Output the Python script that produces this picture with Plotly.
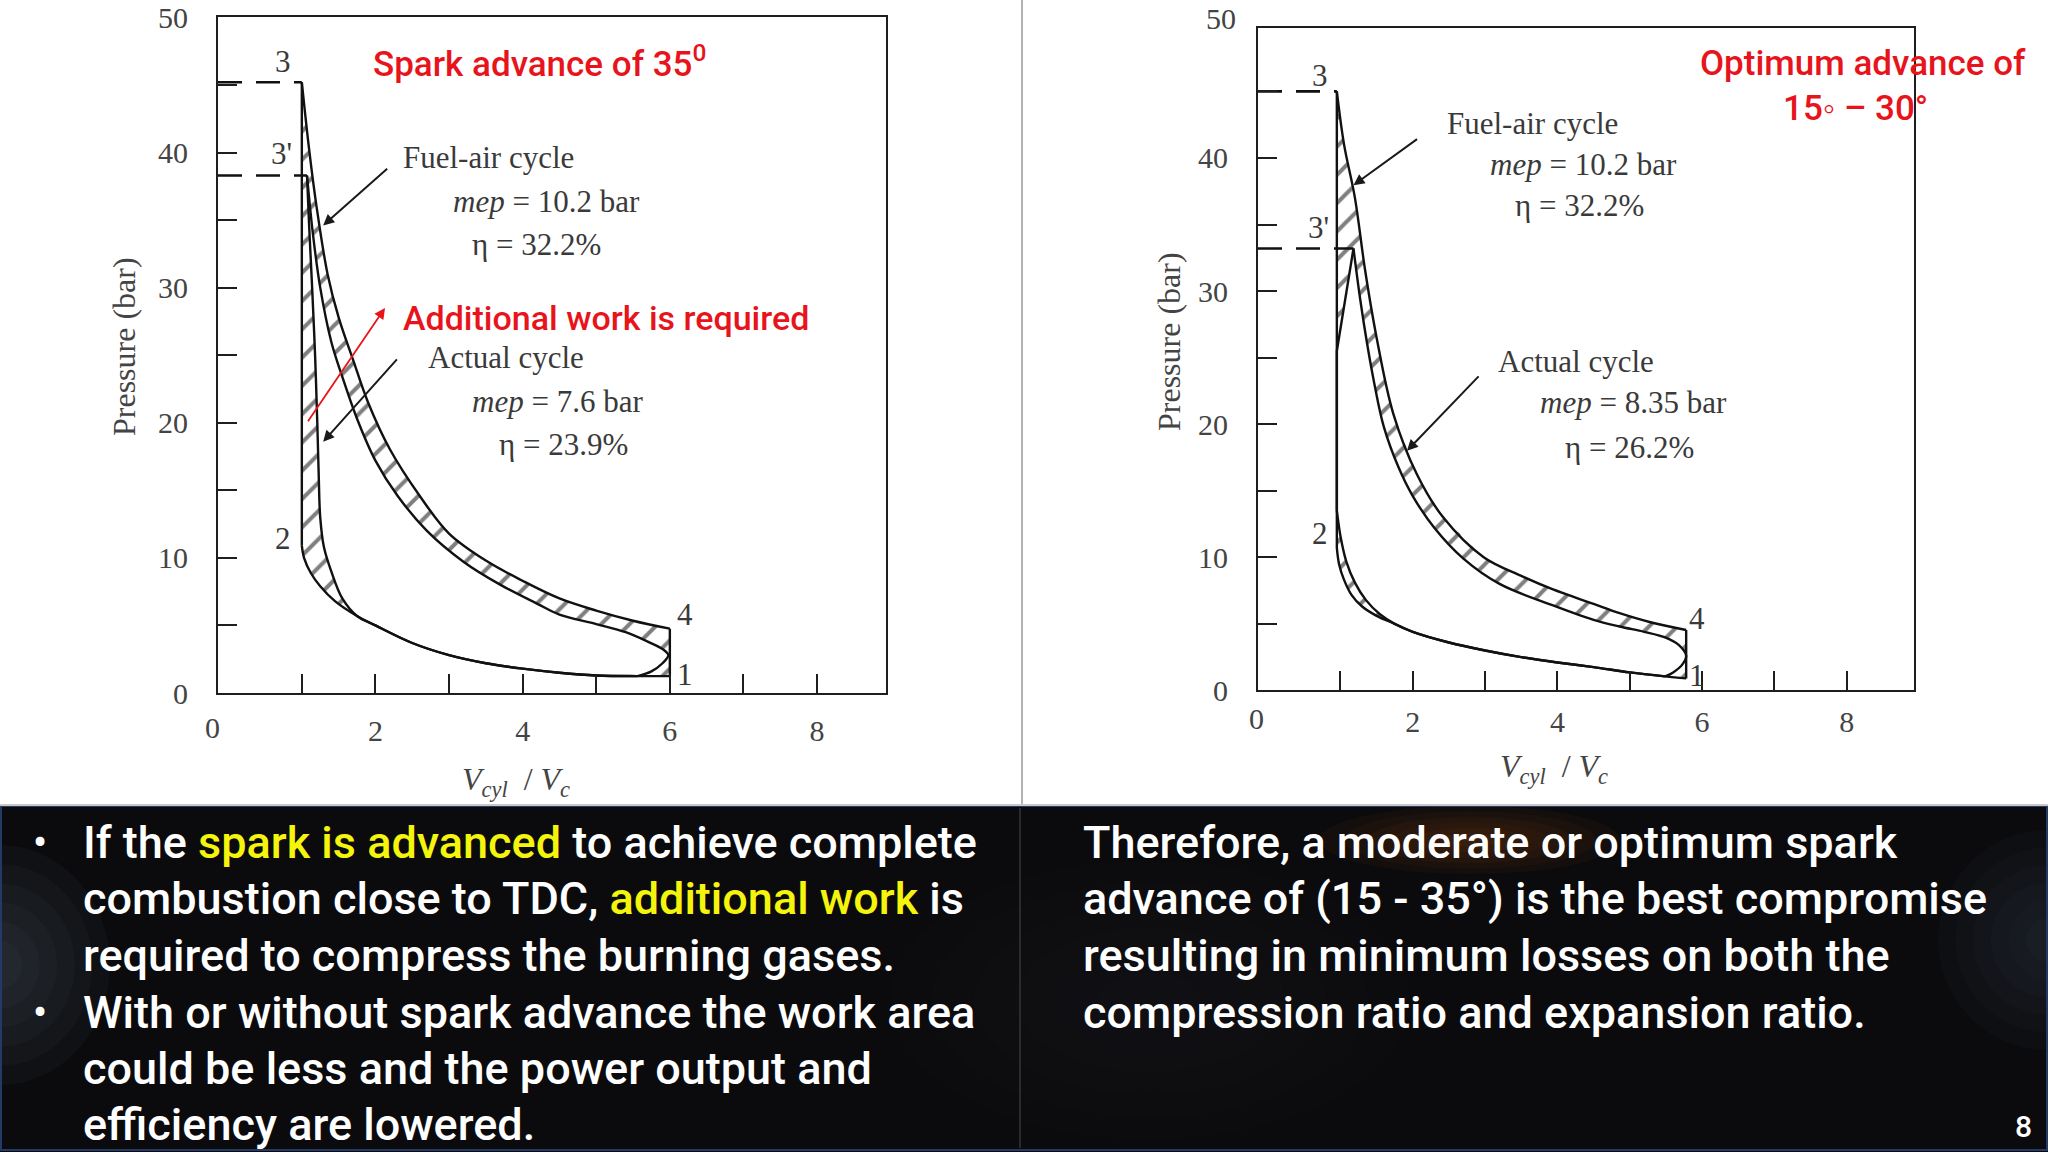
import plotly.graph_objects as go

W, H = 2048, 1152

# ---------------- data ----------------
# Left diagram: spark advance of 35 deg  (x = Vcyl/Vc, y = pressure in bar)
L_fa_comp_x = [6.0, 5.56, 5.0, 4.5, 4.0, 3.5, 3.0, 2.5, 2.0, 1.75, 1.45, 1.25, 1.12, 1.03, 1.0]
L_fa_comp_y = [1.25, 1.25, 1.3, 1.5, 1.8, 2.2, 2.8, 3.7, 5.0, 5.7, 6.8, 7.9, 8.9, 10.0, 10.9]
L_fa_exp_x = [1.0, 1.1, 1.2, 1.35, 1.5, 1.7, 1.9, 2.2, 2.6, 3.0, 3.5, 4.0, 4.5, 5.0, 5.5, 6.0]
L_fa_exp_y = [45.2, 40.2, 36.0, 31.0, 27.8, 24.6, 21.5, 18.0, 14.6, 11.8, 9.8, 8.3, 7.0, 6.1, 5.35, 4.76]
L_ac_comp_x = [5.56, 5.0, 4.5, 4.0, 3.5, 3.0, 2.5, 2.0, 1.75, 1.55, 1.4, 1.3, 1.25, 1.23, 1.21, 1.18, 1.14, 1.1, 1.07]
L_ac_comp_y = [1.25, 1.3, 1.5, 1.8, 2.2, 2.8, 3.7, 5.0, 5.7, 7.0, 9.0, 10.8, 13.0, 16.0, 20.0, 25.0, 30.0, 34.5, 38.3]
L_ac_exp_x = [1.07, 1.15, 1.25, 1.4, 1.55, 1.75, 2.0, 2.3, 2.7, 3.2, 3.7, 4.2, 4.5, 5.0, 5.4, 5.7, 5.9, 5.98, 5.9, 5.75, 5.56]
L_ac_exp_y = [38.3, 34.0, 30.0, 26.0, 23.4, 20.3, 17.2, 14.6, 12.0, 9.7, 8.0, 6.6, 5.8, 5.1, 4.5, 3.8, 3.25, 2.8, 2.2, 1.6, 1.25]
L_peak_fa = [1.0, 45.2]      # point 3
L_peak_ac = [1.07, 38.3]     # point 3'

# Right diagram: optimum advance
R_fa_comp_x = [5.78, 5.49, 5.0, 4.5, 4.0, 3.5, 3.0, 2.5, 2.0, 1.75, 1.5, 1.3, 1.15, 1.05, 0.98, 0.95]
R_fa_comp_y = [0.9, 1.05, 1.35, 1.75, 2.1, 2.5, 3.0, 3.6, 4.4, 5.0, 5.6, 6.3, 7.2, 8.3, 9.5, 10.7]
R_fa_exp_x = [0.95, 1.05, 1.2, 1.34, 1.5, 1.73, 2.06, 2.42, 2.98, 3.5, 3.93, 4.5, 4.86, 5.3, 5.78]
R_fa_exp_y = [45.0, 41.0, 37.0, 31.6, 26.5, 20.8, 16.2, 13.0, 10.0, 8.6, 7.6, 6.5, 5.8, 5.1, 4.54]
R_ac_comp_x = [5.49, 5.0, 4.5, 4.0, 3.5, 3.0, 2.5, 2.0, 1.75, 1.55, 1.35, 1.2, 1.08, 1.0, 0.95]
R_ac_comp_y = [1.05, 1.35, 1.75, 2.1, 2.5, 3.0, 3.6, 4.4, 5.0, 5.7, 6.8, 8.1, 9.7, 11.6, 13.5]
R_ac_burn_x = [0.95, 0.95, 1.18]
R_ac_burn_y = [13.5, 25.5, 33.2]
R_ac_exp_x = [1.18, 1.27, 1.37, 1.47, 1.6, 1.8, 2.0, 2.3, 2.7, 3.2, 3.93, 4.5, 4.86, 5.2, 5.48, 5.68, 5.78, 5.72, 5.6, 5.49]
R_ac_exp_y = [33.2, 29.5, 26.0, 23.0, 19.8, 16.8, 14.6, 12.2, 9.9, 8.0, 6.4, 5.3, 4.8, 4.4, 4.0, 3.4, 2.6, 1.9, 1.35, 1.05]
R_peak_fa = [0.95, 45.0]
R_peak_ac = [1.18, 33.2]

x_tick_vals = [1, 2, 3, 4, 5, 6, 7, 8]
x_tick_text = ["", "2", "", "4", "", "6", "", "8"]
y_tick_vals = [0, 5, 10, 15, 20, 25, 30, 35, 40, 45, 50]
y_tick_text = ["0", "", "10", "", "20", "", "30", "", "40", "", "50"]

# cycle labels: (text, x, y)
L_labels = [("Fuel-air cycle", 3.53, 39.6), ("<i>mep</i> = 10.2 bar", 4.33, 36.4), ("η = 32.2%", 4.19, 33.2),
            ("Actual cycle", 3.78, 24.8), ("<i>mep</i> = 7.6 bar", 4.47, 21.6), ("η = 23.9%", 4.55, 18.4)]
L_points = [("3", 0.75, 46.75), ("3'", 0.72, 39.9), ("2", 0.75, 11.4), ("4", 6.21, 5.8), ("1", 6.21, 1.4)]
R_labels = [("Fuel-air cycle", 3.66, 42.6), ("<i>mep</i> = 10.2 bar", 4.36, 39.5), ("η = 32.2%", 4.31, 36.4),
            ("Actual cycle", 4.25, 24.7), ("<i>mep</i> = 8.35 bar", 5.05, 21.6), ("η = 26.2%", 5.0, 18.25)]
R_points = [("3", 0.72, 46.2), ("3'", 0.7, 34.8), ("2", 0.72, 11.8), ("4", 5.93, 5.4), ("1", 5.93, 1.1)]

# arrows: (tail x, tail y, head x, head y)
L_arrows = [(2.18, 38.9, 1.29, 34.6), (2.31, 24.8, 1.29, 18.6)]
L_red_arrow = (1.07, 20.0, 2.13, 28.5)
R_arrows = [(2.08, 41.5, 1.18, 37.95), (2.93, 23.7, 1.92, 18.0)]

left_lines = [
    "If the <span style='color:#f4f40c'>spark is advanced</span> to achieve complete",
    "combustion close to TDC, <span style='color:#f4f40c'>additional work</span> is",
    "required to compress the burning gases.",
    "With or without spark advance the work area",
    "could be less and the power output and",
    "efficiency are lowered.",
]
left_bullets = [0, 3]
right_lines = [
    "Therefore, a moderate or optimum spark",
    "advance of (15 - 35°) is the best compromise",
    "resulting in minimum losses on both the",
    "compression ratio and expansion ratio.",
]
line_y_px = [842, 898.5, 955, 1012, 1068, 1124.5]

SERIF = "Liberation Serif, Times New Roman, serif"
SANS = "Roboto, Arial, sans-serif"
TXT = "#3a3a3a"
RED = "#e8141c"


def px(x):
    return x / W


def py(y):
    return 1 - y / H


fig = go.Figure()


def add_cycle(xa, ya, fa_c, fa_e, ac_parts, peak_fa, peak_ac, frame_x0):
    fx = fa_c[0] + fa_e[0]
    fy = fa_c[1] + fa_e[1]
    fig.add_trace(go.Scatter(x=fx + [fx[0]], y=fy + [fy[0]], mode="lines", fill="toself",
                             line=dict(width=0), fillcolor="white",
                             fillpattern=dict(shape="/", size=20, solidity=0.2, fgcolor="#000000", bgcolor="white"),
                             xaxis=xa, yaxis=ya, hoverinfo="skip", showlegend=False))
    axs, ays = [], []
    for p in ac_parts:
        axs += p[0]
        ays += p[1]
    fig.add_trace(go.Scatter(x=axs + [axs[0]], y=ays + [ays[0]], mode="lines", fill="toself",
                             line=dict(width=0), fillcolor="white",
                             xaxis=xa, yaxis=ya, hoverinfo="skip", showlegend=False))
    lw = 2.4
    for (sx, sy, shape) in [(fa_c[0], fa_c[1], "spline"), (fa_e[0], fa_e[1], "spline"),
                            ([fa_c[0][-1], fa_e[0][0]], [fa_c[1][-1], fa_e[1][0]], "linear"),
                            ([fa_e[0][-1], fa_c[0][0]], [fa_e[1][-1], fa_c[1][0]], "linear")]:
        fig.add_trace(go.Scatter(x=sx, y=sy, mode="lines", line=dict(color="#111111", width=lw, shape=shape),
                                 xaxis=xa, yaxis=ya, hoverinfo="skip", showlegend=False))
    for p in ac_parts:
        fig.add_trace(go.Scatter(x=p[0], y=p[1], mode="lines", line=dict(color="#111111", width=lw, shape=p[2]),
                                 xaxis=xa, yaxis=ya, hoverinfo="skip", showlegend=False))
    for pk in (peak_fa, peak_ac):
        fig.add_trace(go.Scatter(x=[frame_x0, pk[0]], y=[pk[1], pk[1]], mode="lines",
                                 line=dict(color="#111111", width=2.6, dash="24px,14px"),
                                 xaxis=xa, yaxis=ya, hoverinfo="skip", showlegend=False))


add_cycle("x", "y", (L_fa_comp_x, L_fa_comp_y), (L_fa_exp_x, L_fa_exp_y),
          [(L_ac_comp_x, L_ac_comp_y, "spline"), (L_ac_exp_x, L_ac_exp_y, "spline")],
          L_peak_fa, L_peak_ac, -0.139)
add_cycle("x2", "y2", (R_fa_comp_x, R_fa_comp_y), (R_fa_exp_x, R_fa_exp_y),
          [(R_ac_comp_x, R_ac_comp_y, "spline"), (R_ac_burn_x, R_ac_burn_y, "linear"),
           (R_ac_exp_x, R_ac_exp_y, "spline")],
          R_peak_fa, R_peak_ac, -0.14)

axis_common = dict(showline=True, mirror=True, linecolor="#1e1e1e", linewidth=2, ticks="inside",
                   ticklen=19, tickwidth=2, tickcolor="#1e1e1e", showgrid=False, zeroline=False,
                   automargin=False,
                   tickfont=dict(family=SERIF, size=30, color="#444"), fixedrange=True)

fig.update_layout(
    width=W, height=H, autosize=False,
    margin=dict(l=0, r=0, t=0, b=0, pad=0, autoexpand=False),
    paper_bgcolor="white", plot_bgcolor="white",
    showlegend=False,
    xaxis=dict(domain=[218 / W, 885.5 / W], range=[-0.139, 8.93], tickvals=x_tick_vals, ticktext=x_tick_text,
               ticklabelstandoff=10, anchor="y", **axis_common),
    yaxis=dict(domain=[py(693), py(17.4)], range=[0, 50], tickvals=y_tick_vals, ticktext=y_tick_text,
               ticklabelstandoff=22, anchor="x", **axis_common),
    xaxis2=dict(domain=[1258 / W, 1914 / W], range=[-0.14, 8.93], tickvals=x_tick_vals, ticktext=x_tick_text,
                ticklabelstandoff=4, anchor="y2", **axis_common),
    yaxis2=dict(domain=[py(690.4), py(27.5)], range=[0, 49.8], tickvals=y_tick_vals, ticktext=y_tick_text,
                ticklabelstandoff=22, anchor="x2", **axis_common),
)

TICKFONT = dict(family=SERIF, size=30, color="#444")
ann = []
# extra tick labels: x "0" (no tick mark there) and the right "50" above the frame
for (t, cx, cy) in [("0", 212, 727), ("0", 1256, 718), ("50", 1221, 18)]:
    ann.append(dict(text=t, x=px(cx), y=py(cy), xref="paper", yref="paper", xanchor="center",
                    yanchor="middle", showarrow=False, font=TICKFONT))

# axis titles
for (cx, cy) in [(124, 347), (1169, 342)]:
    ann.append(dict(text="Pressure (bar)", x=px(cx), y=py(cy), xref="paper", yref="paper", textangle=-90,
                    xanchor="center", yanchor="middle",
                    showarrow=False, font=dict(family=SERIF, size=32, color="#444")))
for (cx, cy) in [(516, 781), (1554, 768)]:
    ann.append(dict(text="<i>V</i><sub><i>cyl</i></sub>  / <i>V</i><sub><i>c</i></sub>", x=px(cx), y=py(cy),
                    xref="paper", yref="paper", xanchor="center", yanchor="middle", showarrow=False,
                    font=dict(family=SERIF, size=32, color="#444")))

for xa, ya, labels, points in [("x", "y", L_labels, L_points), ("x2", "y2", R_labels, R_points)]:
    for t, x, y in labels + points:
        ann.append(dict(text=t, x=x, y=y, xref=xa, yref=ya, xanchor="center", yanchor="middle",
                        showarrow=False, font=dict(family=SERIF, size=31, color=TXT)))

for xa, ya, arrows in [("x", "y", L_arrows), ("x2", "y2", R_arrows)]:
    for (tx, ty, hx, hy) in arrows:
        ann.append(dict(text="", x=hx, y=hy, ax=tx, ay=ty, xref=xa, yref=ya, axref=xa, ayref=ya,
                        showarrow=True, arrowhead=2, arrowsize=1.1, arrowwidth=2, arrowcolor="#1a1a1a"))
tx, ty, hx, hy = L_red_arrow
ann.append(dict(text="", x=hx, y=hy, ax=tx, ay=ty, xref="x", yref="y", axref="x", ayref="y",
                showarrow=True, arrowhead=2, arrowsize=1.2, arrowwidth=1.8, arrowcolor=RED))

# red callouts
REDFONT = dict(family=SANS, size=35, color=RED, weight=500)
ann.append(dict(text="Spark advance of 35<sup>0</sup>", x=px(371), y=py(62), xref="paper", yref="paper",
                xanchor="left", yanchor="middle", showarrow=False, font=REDFONT))
ann.append(dict(text="Additional work is required", x=px(401), y=py(318), xref="paper", yref="paper",
                xanchor="left", yanchor="middle", showarrow=False, font=dict(REDFONT, size=34)))
ann.append(dict(text="Optimum advance of", x=px(2028), y=py(63), xref="paper", yref="paper", xanchor="right",
                yanchor="middle", showarrow=False, font=REDFONT))
ann.append(dict(text="15◦ – 30°", x=px(1855), y=py(108), xref="paper", yref="paper", xanchor="center",
                yanchor="middle", showarrow=False, font=REDFONT))

# bottom panel texts
PANELFONT = dict(family=SANS, size=45, color="white", weight=500)
for i, t in enumerate(left_lines):
    ann.append(dict(text=t, x=px(81), y=py(line_y_px[i]), xref="paper", yref="paper", xanchor="left",
                    yanchor="middle", showarrow=False, font=PANELFONT))
for i in left_bullets:
    ann.append(dict(text="•", x=px(40), y=py(line_y_px[i]), xref="paper", yref="paper", xanchor="center",
                    yanchor="middle", showarrow=False, font=dict(PANELFONT, size=40)))
for i, t in enumerate(right_lines):
    ann.append(dict(text=t, x=px(1081), y=py(line_y_px[i]), xref="paper", yref="paper", xanchor="left",
                    yanchor="middle", showarrow=False, font=PANELFONT))
ann.append(dict(text="8", x=px(2023), y=py(1126), xref="paper", yref="paper", xanchor="center",
                yanchor="middle", showarrow=False, font=dict(PANELFONT, size=30)))

fig.update_layout(annotations=ann)

# background shapes: dark panel, soft glows (ellipses kept inside the panel), dividers
shapes = [
    dict(type="rect", xref="paper", yref="paper", x0=0, x1=1, y0=0, y1=py(805), fillcolor="#0b0b0d",
         line=dict(width=0), layer="below"),
]
glows = [  # (cx, cy, rx, ry, colour)
    (0, 965, 110, 120, "#59636d"),
    (1470, 840, 150, 34, "#8c4c14"),
    (2048, 940, 110, 110, "#3f4851"),
    (1150, 1000, 260, 140, "#202329"),
]
for (cx, cy, rx, ry, col) in glows:
    for k in range(6):
        f = 1 - k * 0.16
        shapes.append(dict(type="circle", xref="paper", yref="paper", x0=px(cx - rx * f), x1=px(cx + rx * f),
                           y0=py(cy + ry * f), y1=py(cy - ry * f), fillcolor=col, opacity=0.07,
                           line=dict(width=0), layer="below"))
shapes.append(dict(type="rect", xref="paper", yref="paper", x0=px(1), x1=px(2047), y0=py(1150), y1=py(806),
                   fillcolor="rgba(0,0,0,0)", line=dict(color="#233a66", width=2), layer="below"))
shapes.append(dict(type="line", xref="paper", yref="paper", x0=px(1022), x1=px(1022), y0=py(0), y1=py(805),
                   line=dict(color="#9a9a9a", width=1.5)))
shapes.append(dict(type="line", xref="paper", yref="paper", x0=px(1020), x1=px(1020), y0=py(808), y1=py(1148),
                   line=dict(color="#34343a", width=1.5)))
shapes.append(dict(type="line", xref="paper", yref="paper", x0=0, x1=1, y0=py(805), y1=py(805),
                   line=dict(color="#c8c8c8", width=2)))
fig.update_layout(shapes=shapes)

fig.write_html("out.html")
